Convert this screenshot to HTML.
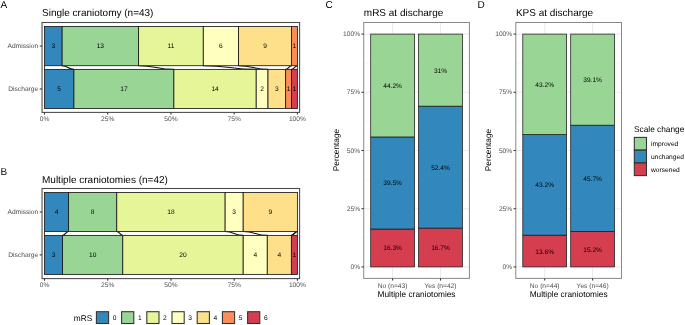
<!DOCTYPE html>
<html><head><meta charset="utf-8"><style>
html,body{margin:0;padding:0;background:#fff;}
svg{display:block;font-family:'Liberation Sans', Arial, sans-serif;text-rendering:geometricPrecision;}
</style></head><body>
<svg width="685" height="325" viewBox="0 0 685 325">
<rect x="0" y="0" width="685" height="325" fill="#fff"/>
<text x="0.50" y="8.40" font-size="10" text-anchor="start" fill="#000" >A</text>
<text x="42.00" y="16.40" font-size="10" text-anchor="start" fill="#000" >Single craniotomy (n=43)</text>
<rect x="42.05" y="22.50" width="257.55" height="89.90" fill="#fff" stroke="#4a4a4a" stroke-width="1.07"/>
<line x1="44.50" y1="65.70" x2="44.50" y2="69.40" stroke="#1a1a1a" stroke-width="0.85"/>
<line x1="297.40" y1="65.70" x2="297.40" y2="69.40" stroke="#1a1a1a" stroke-width="0.85"/>
<path d="M62.14,65.70 C68.03,65.70 68.03,69.40 73.91,69.40" fill="none" stroke="#111" stroke-width="1.1"/>
<path d="M138.60,65.70 C156.25,65.70 156.25,69.40 173.89,69.40" fill="none" stroke="#111" stroke-width="1.1"/>
<path d="M203.30,65.70 C229.76,65.70 229.76,69.40 256.23,69.40" fill="none" stroke="#111" stroke-width="1.1"/>
<path d="M238.59,65.70 C253.29,65.70 253.29,69.40 267.99,69.40" fill="none" stroke="#111" stroke-width="1.1"/>
<path d="M291.52,65.70 C288.58,65.70 288.58,69.40 285.64,69.40" fill="none" stroke="#111" stroke-width="1.1"/>
<path d="M297.40,65.70 C294.46,65.70 294.46,69.40 291.52,69.40" fill="none" stroke="#111" stroke-width="1.1"/>
<rect x="44.50" y="26.50" width="17.64" height="39.20" fill="#3288BD" stroke="#1a1a1a" stroke-width="0.85"/>
<text x="53.32" y="48.40" font-size="6.6" text-anchor="middle" fill="#000" >3</text>
<rect x="62.14" y="26.50" width="76.46" height="39.20" fill="#99D594" stroke="#1a1a1a" stroke-width="0.85"/>
<text x="100.37" y="48.40" font-size="6.6" text-anchor="middle" fill="#000" >13</text>
<rect x="138.60" y="26.50" width="64.70" height="39.20" fill="#E6F598" stroke="#1a1a1a" stroke-width="0.85"/>
<text x="170.95" y="48.40" font-size="6.6" text-anchor="middle" fill="#000" >11</text>
<rect x="203.30" y="26.50" width="35.29" height="39.20" fill="#FFFFBF" stroke="#1a1a1a" stroke-width="0.85"/>
<text x="220.94" y="48.40" font-size="6.6" text-anchor="middle" fill="#000" >6</text>
<rect x="238.59" y="26.50" width="52.93" height="39.20" fill="#FEE08B" stroke="#1a1a1a" stroke-width="0.85"/>
<text x="265.05" y="48.40" font-size="6.6" text-anchor="middle" fill="#000" >9</text>
<rect x="291.52" y="26.50" width="5.88" height="39.20" fill="#FC8D59" stroke="#1a1a1a" stroke-width="0.85"/>
<text x="294.46" y="48.40" font-size="6.6" text-anchor="middle" fill="#000" >1</text>
<rect x="44.50" y="69.40" width="29.41" height="39.10" fill="#3288BD" stroke="#1a1a1a" stroke-width="0.85"/>
<text x="59.20" y="91.25" font-size="6.6" text-anchor="middle" fill="#000" >5</text>
<rect x="73.91" y="69.40" width="99.98" height="39.10" fill="#99D594" stroke="#1a1a1a" stroke-width="0.85"/>
<text x="123.90" y="91.25" font-size="6.6" text-anchor="middle" fill="#000" >17</text>
<rect x="173.89" y="69.40" width="82.34" height="39.10" fill="#E6F598" stroke="#1a1a1a" stroke-width="0.85"/>
<text x="215.06" y="91.25" font-size="6.6" text-anchor="middle" fill="#000" >14</text>
<rect x="256.23" y="69.40" width="11.76" height="39.10" fill="#FFFFBF" stroke="#1a1a1a" stroke-width="0.85"/>
<text x="262.11" y="91.25" font-size="6.6" text-anchor="middle" fill="#000" >2</text>
<rect x="267.99" y="69.40" width="17.64" height="39.10" fill="#FEE08B" stroke="#1a1a1a" stroke-width="0.85"/>
<text x="276.82" y="91.25" font-size="6.6" text-anchor="middle" fill="#000" >3</text>
<rect x="285.64" y="69.40" width="5.88" height="39.10" fill="#FC8D59" stroke="#1a1a1a" stroke-width="0.85"/>
<text x="288.58" y="91.25" font-size="6.6" text-anchor="middle" fill="#000" >1</text>
<rect x="291.52" y="69.40" width="5.88" height="39.10" fill="#D53E4F" stroke="#1a1a1a" stroke-width="0.85"/>
<text x="294.46" y="91.25" font-size="6.6" text-anchor="middle" fill="#000" >1</text>
<text x="38.20" y="48.40" font-size="6.65" text-anchor="end" fill="#4D4D4D" >Admission</text>
<line x1="39.7" y1="46.10" x2="42.05" y2="46.10" stroke="#333" stroke-width="1.07"/>
<text x="38.20" y="91.25" font-size="6.65" text-anchor="end" fill="#4D4D4D" >Discharge</text>
<line x1="39.7" y1="88.95" x2="42.05" y2="88.95" stroke="#333" stroke-width="1.07"/>
<line x1="44.50" y1="112.40" x2="44.50" y2="114.60" stroke="#333" stroke-width="1.07"/>
<text x="44.50" y="121.10" font-size="6.65" text-anchor="middle" fill="#4D4D4D" >0%</text>
<line x1="107.72" y1="112.40" x2="107.72" y2="114.60" stroke="#333" stroke-width="1.07"/>
<text x="107.72" y="121.10" font-size="6.65" text-anchor="middle" fill="#4D4D4D" >25%</text>
<line x1="170.95" y1="112.40" x2="170.95" y2="114.60" stroke="#333" stroke-width="1.07"/>
<text x="170.95" y="121.10" font-size="6.65" text-anchor="middle" fill="#4D4D4D" >50%</text>
<line x1="234.17" y1="112.40" x2="234.17" y2="114.60" stroke="#333" stroke-width="1.07"/>
<text x="234.17" y="121.10" font-size="6.65" text-anchor="middle" fill="#4D4D4D" >75%</text>
<line x1="297.40" y1="112.40" x2="297.40" y2="114.60" stroke="#333" stroke-width="1.07"/>
<text x="297.40" y="121.10" font-size="6.65" text-anchor="middle" fill="#4D4D4D" >100%</text>
<text x="0.50" y="174.50" font-size="10" text-anchor="start" fill="#000" >B</text>
<text x="42.00" y="182.50" font-size="10" text-anchor="start" fill="#000" >Multiple craniotomies (n=42)</text>
<rect x="42.05" y="188.50" width="257.55" height="90.10" fill="#fff" stroke="#4a4a4a" stroke-width="1.07"/>
<line x1="44.50" y1="231.50" x2="44.50" y2="235.40" stroke="#1a1a1a" stroke-width="0.85"/>
<line x1="297.40" y1="231.50" x2="297.40" y2="235.40" stroke="#1a1a1a" stroke-width="0.85"/>
<path d="M68.59,231.50 C65.58,231.50 65.58,235.40 62.56,235.40" fill="none" stroke="#111" stroke-width="1.1"/>
<path d="M116.76,231.50 C119.77,231.50 119.77,235.40 122.78,235.40" fill="none" stroke="#111" stroke-width="1.1"/>
<path d="M225.14,231.50 C234.17,231.50 234.17,235.40 243.21,235.40" fill="none" stroke="#111" stroke-width="1.1"/>
<path d="M243.21,231.50 C255.25,231.50 255.25,235.40 267.29,235.40" fill="none" stroke="#111" stroke-width="1.1"/>
<path d="M297.40,231.50 C294.39,231.50 294.39,235.40 291.38,235.40" fill="none" stroke="#111" stroke-width="1.1"/>
<path d="M297.40,231.50 C294.39,231.50 294.39,235.40 291.38,235.40" fill="none" stroke="#111" stroke-width="1.1"/>
<rect x="44.50" y="192.50" width="24.09" height="39.00" fill="#3288BD" stroke="#1a1a1a" stroke-width="0.85"/>
<text x="56.54" y="214.30" font-size="6.6" text-anchor="middle" fill="#000" >4</text>
<rect x="68.59" y="192.50" width="48.17" height="39.00" fill="#99D594" stroke="#1a1a1a" stroke-width="0.85"/>
<text x="92.67" y="214.30" font-size="6.6" text-anchor="middle" fill="#000" >8</text>
<rect x="116.76" y="192.50" width="108.39" height="39.00" fill="#E6F598" stroke="#1a1a1a" stroke-width="0.85"/>
<text x="170.95" y="214.30" font-size="6.6" text-anchor="middle" fill="#000" >18</text>
<rect x="225.14" y="192.50" width="18.06" height="39.00" fill="#FFFFBF" stroke="#1a1a1a" stroke-width="0.85"/>
<text x="234.17" y="214.30" font-size="6.6" text-anchor="middle" fill="#000" >3</text>
<rect x="243.21" y="192.50" width="54.19" height="39.00" fill="#FEE08B" stroke="#1a1a1a" stroke-width="0.85"/>
<text x="270.30" y="214.30" font-size="6.6" text-anchor="middle" fill="#000" >9</text>
<rect x="44.50" y="235.40" width="18.06" height="39.00" fill="#3288BD" stroke="#1a1a1a" stroke-width="0.85"/>
<text x="53.53" y="257.20" font-size="6.6" text-anchor="middle" fill="#000" >3</text>
<rect x="62.56" y="235.40" width="60.21" height="39.00" fill="#99D594" stroke="#1a1a1a" stroke-width="0.85"/>
<text x="92.67" y="257.20" font-size="6.6" text-anchor="middle" fill="#000" >10</text>
<rect x="122.78" y="235.40" width="120.43" height="39.00" fill="#E6F598" stroke="#1a1a1a" stroke-width="0.85"/>
<text x="182.99" y="257.20" font-size="6.6" text-anchor="middle" fill="#000" >20</text>
<rect x="243.21" y="235.40" width="24.09" height="39.00" fill="#FFFFBF" stroke="#1a1a1a" stroke-width="0.85"/>
<text x="255.25" y="257.20" font-size="6.6" text-anchor="middle" fill="#000" >4</text>
<rect x="267.29" y="235.40" width="24.09" height="39.00" fill="#FEE08B" stroke="#1a1a1a" stroke-width="0.85"/>
<text x="279.34" y="257.20" font-size="6.6" text-anchor="middle" fill="#000" >4</text>
<rect x="291.38" y="235.40" width="6.02" height="39.00" fill="#D53E4F" stroke="#1a1a1a" stroke-width="0.85"/>
<text x="294.39" y="257.20" font-size="6.6" text-anchor="middle" fill="#000" >1</text>
<text x="38.20" y="214.30" font-size="6.65" text-anchor="end" fill="#4D4D4D" >Admission</text>
<line x1="39.7" y1="212.00" x2="42.05" y2="212.00" stroke="#333" stroke-width="1.07"/>
<text x="38.20" y="257.20" font-size="6.65" text-anchor="end" fill="#4D4D4D" >Discharge</text>
<line x1="39.7" y1="254.90" x2="42.05" y2="254.90" stroke="#333" stroke-width="1.07"/>
<line x1="44.50" y1="278.60" x2="44.50" y2="280.80" stroke="#333" stroke-width="1.07"/>
<text x="44.50" y="287.30" font-size="6.65" text-anchor="middle" fill="#4D4D4D" >0%</text>
<line x1="107.72" y1="278.60" x2="107.72" y2="280.80" stroke="#333" stroke-width="1.07"/>
<text x="107.72" y="287.30" font-size="6.65" text-anchor="middle" fill="#4D4D4D" >25%</text>
<line x1="170.95" y1="278.60" x2="170.95" y2="280.80" stroke="#333" stroke-width="1.07"/>
<text x="170.95" y="287.30" font-size="6.65" text-anchor="middle" fill="#4D4D4D" >50%</text>
<line x1="234.17" y1="278.60" x2="234.17" y2="280.80" stroke="#333" stroke-width="1.07"/>
<text x="234.17" y="287.30" font-size="6.65" text-anchor="middle" fill="#4D4D4D" >75%</text>
<line x1="297.40" y1="278.60" x2="297.40" y2="280.80" stroke="#333" stroke-width="1.07"/>
<text x="297.40" y="287.30" font-size="6.65" text-anchor="middle" fill="#4D4D4D" >100%</text>
<text x="73.80" y="320.60" font-size="8.3" text-anchor="start" fill="#000" >mRS</text>
<rect x="96.40" y="311.7" width="12.2" height="11.8" fill="#3288BD" stroke="#333" stroke-width="1.07"/>
<text x="112.70" y="320.00" font-size="6.65" text-anchor="start" fill="#000" >0</text>
<rect x="121.60" y="311.7" width="12.2" height="11.8" fill="#99D594" stroke="#333" stroke-width="1.07"/>
<text x="137.90" y="320.00" font-size="6.65" text-anchor="start" fill="#000" >1</text>
<rect x="146.80" y="311.7" width="12.2" height="11.8" fill="#E6F598" stroke="#333" stroke-width="1.07"/>
<text x="163.10" y="320.00" font-size="6.65" text-anchor="start" fill="#000" >2</text>
<rect x="172.00" y="311.7" width="12.2" height="11.8" fill="#FFFFBF" stroke="#333" stroke-width="1.07"/>
<text x="188.30" y="320.00" font-size="6.65" text-anchor="start" fill="#000" >3</text>
<rect x="197.20" y="311.7" width="12.2" height="11.8" fill="#FEE08B" stroke="#333" stroke-width="1.07"/>
<text x="213.50" y="320.00" font-size="6.65" text-anchor="start" fill="#000" >4</text>
<rect x="222.40" y="311.7" width="12.2" height="11.8" fill="#FC8D59" stroke="#333" stroke-width="1.07"/>
<text x="238.70" y="320.00" font-size="6.65" text-anchor="start" fill="#000" >5</text>
<rect x="247.60" y="311.7" width="12.2" height="11.8" fill="#D53E4F" stroke="#333" stroke-width="1.07"/>
<text x="263.90" y="320.00" font-size="6.65" text-anchor="start" fill="#000" >6</text>
<text x="325.50" y="8.30" font-size="10" text-anchor="start" fill="#000" >C</text>
<text x="363.80" y="16.30" font-size="10" text-anchor="start" fill="#000" >mRS at discharge</text>
<rect x="363.70" y="22.5" width="105.70" height="255.89999999999998" fill="#fff"/>
<line x1="363.70" y1="237.80" x2="469.40" y2="237.80" stroke="#F2F2F2" stroke-width="0.55"/>
<line x1="363.70" y1="179.60" x2="469.40" y2="179.60" stroke="#F2F2F2" stroke-width="0.55"/>
<line x1="363.70" y1="121.40" x2="469.40" y2="121.40" stroke="#F2F2F2" stroke-width="0.55"/>
<line x1="363.70" y1="63.20" x2="469.40" y2="63.20" stroke="#F2F2F2" stroke-width="0.55"/>
<line x1="363.70" y1="266.90" x2="469.40" y2="266.90" stroke="#EBEBEB" stroke-width="1.07"/>
<line x1="363.70" y1="208.70" x2="469.40" y2="208.70" stroke="#EBEBEB" stroke-width="1.07"/>
<line x1="363.70" y1="150.50" x2="469.40" y2="150.50" stroke="#EBEBEB" stroke-width="1.07"/>
<line x1="363.70" y1="92.30" x2="469.40" y2="92.30" stroke="#EBEBEB" stroke-width="1.07"/>
<line x1="363.70" y1="34.10" x2="469.40" y2="34.10" stroke="#EBEBEB" stroke-width="1.07"/>
<line x1="392.60" y1="22.5" x2="392.60" y2="278.4" stroke="#EBEBEB" stroke-width="1.07"/>
<line x1="440.50" y1="22.5" x2="440.50" y2="278.4" stroke="#EBEBEB" stroke-width="1.07"/>
<rect x="370.70" y="229.00" width="43.8" height="37.90" fill="#D53E4F" stroke="#1a1a1a" stroke-width="0.75"/>
<text x="392.60" y="250.45" font-size="6.6" text-anchor="middle" fill="#000" >16.3%</text>
<rect x="370.70" y="136.97" width="43.8" height="92.04" fill="#3288BD" stroke="#1a1a1a" stroke-width="0.75"/>
<text x="392.60" y="185.48" font-size="6.6" text-anchor="middle" fill="#000" >39.5%</text>
<rect x="370.70" y="34.10" width="43.8" height="102.87" fill="#99D594" stroke="#1a1a1a" stroke-width="0.75"/>
<text x="392.60" y="88.03" font-size="6.6" text-anchor="middle" fill="#000" >44.2%</text>
<rect x="418.60" y="228.10" width="43.8" height="38.80" fill="#D53E4F" stroke="#1a1a1a" stroke-width="0.75"/>
<text x="440.50" y="250.00" font-size="6.6" text-anchor="middle" fill="#000" >16.7%</text>
<rect x="418.60" y="106.16" width="43.8" height="121.94" fill="#3288BD" stroke="#1a1a1a" stroke-width="0.75"/>
<text x="440.50" y="169.63" font-size="6.6" text-anchor="middle" fill="#000" >52.4%</text>
<rect x="418.60" y="34.10" width="43.8" height="72.06" fill="#99D594" stroke="#1a1a1a" stroke-width="0.75"/>
<text x="440.50" y="72.63" font-size="6.6" text-anchor="middle" fill="#000" >31%</text>
<rect x="363.70" y="22.5" width="105.70" height="255.89999999999998" fill="none" stroke="#888" stroke-width="1"/>
<line x1="361.50" y1="266.90" x2="363.70" y2="266.90" stroke="#333" stroke-width="1.07"/>
<text x="360.10" y="268.90" font-size="6.65" text-anchor="end" fill="#4D4D4D" >0%</text>
<line x1="361.50" y1="208.70" x2="363.70" y2="208.70" stroke="#333" stroke-width="1.07"/>
<text x="360.10" y="210.70" font-size="6.65" text-anchor="end" fill="#4D4D4D" >25%</text>
<line x1="361.50" y1="150.50" x2="363.70" y2="150.50" stroke="#333" stroke-width="1.07"/>
<text x="360.10" y="152.50" font-size="6.65" text-anchor="end" fill="#4D4D4D" >50%</text>
<line x1="361.50" y1="92.30" x2="363.70" y2="92.30" stroke="#333" stroke-width="1.07"/>
<text x="360.10" y="94.30" font-size="6.65" text-anchor="end" fill="#4D4D4D" >75%</text>
<line x1="361.50" y1="34.10" x2="363.70" y2="34.10" stroke="#333" stroke-width="1.07"/>
<text x="360.10" y="36.10" font-size="6.65" text-anchor="end" fill="#4D4D4D" >100%</text>
<line x1="392.60" y1="278.4" x2="392.60" y2="280.59999999999997" stroke="#333" stroke-width="1.07"/>
<text x="392.60" y="287.50" font-size="6.65" text-anchor="middle" fill="#4D4D4D" >No (n=43)</text>
<line x1="440.50" y1="278.4" x2="440.50" y2="280.59999999999997" stroke="#333" stroke-width="1.07"/>
<text x="440.50" y="287.50" font-size="6.65" text-anchor="middle" fill="#4D4D4D" >Yes (n=42)</text>
<text x="416.55" y="296.80" font-size="8.3" text-anchor="middle" fill="#000" >Multiple craniotomies</text>
<text x="0" y="0" font-size="8.3" text-anchor="middle" transform="translate(339.30,150.05) rotate(-90)">Percentage</text>
<text x="477.60" y="8.30" font-size="10" text-anchor="start" fill="#000" >D</text>
<text x="515.90" y="16.30" font-size="10" text-anchor="start" fill="#000" >KPS at discharge</text>
<rect x="515.80" y="22.5" width="105.70" height="255.89999999999998" fill="#fff"/>
<line x1="515.80" y1="237.80" x2="621.50" y2="237.80" stroke="#F2F2F2" stroke-width="0.55"/>
<line x1="515.80" y1="179.60" x2="621.50" y2="179.60" stroke="#F2F2F2" stroke-width="0.55"/>
<line x1="515.80" y1="121.40" x2="621.50" y2="121.40" stroke="#F2F2F2" stroke-width="0.55"/>
<line x1="515.80" y1="63.20" x2="621.50" y2="63.20" stroke="#F2F2F2" stroke-width="0.55"/>
<line x1="515.80" y1="266.90" x2="621.50" y2="266.90" stroke="#EBEBEB" stroke-width="1.07"/>
<line x1="515.80" y1="208.70" x2="621.50" y2="208.70" stroke="#EBEBEB" stroke-width="1.07"/>
<line x1="515.80" y1="150.50" x2="621.50" y2="150.50" stroke="#EBEBEB" stroke-width="1.07"/>
<line x1="515.80" y1="92.30" x2="621.50" y2="92.30" stroke="#EBEBEB" stroke-width="1.07"/>
<line x1="515.80" y1="34.10" x2="621.50" y2="34.10" stroke="#EBEBEB" stroke-width="1.07"/>
<line x1="544.70" y1="22.5" x2="544.70" y2="278.4" stroke="#EBEBEB" stroke-width="1.07"/>
<line x1="592.60" y1="22.5" x2="592.60" y2="278.4" stroke="#EBEBEB" stroke-width="1.07"/>
<rect x="522.80" y="235.15" width="43.8" height="31.75" fill="#D53E4F" stroke="#1a1a1a" stroke-width="0.75"/>
<text x="544.70" y="253.53" font-size="6.6" text-anchor="middle" fill="#000" >13.6%</text>
<rect x="522.80" y="134.63" width="43.8" height="100.53" fill="#3288BD" stroke="#1a1a1a" stroke-width="0.75"/>
<text x="544.70" y="187.39" font-size="6.6" text-anchor="middle" fill="#000" >43.2%</text>
<rect x="522.80" y="34.10" width="43.8" height="100.53" fill="#99D594" stroke="#1a1a1a" stroke-width="0.75"/>
<text x="544.70" y="86.86" font-size="6.6" text-anchor="middle" fill="#000" >43.2%</text>
<rect x="570.70" y="231.47" width="43.8" height="35.43" fill="#D53E4F" stroke="#1a1a1a" stroke-width="0.75"/>
<text x="592.60" y="251.69" font-size="6.6" text-anchor="middle" fill="#000" >15.2%</text>
<rect x="570.70" y="125.20" width="43.8" height="106.28" fill="#3288BD" stroke="#1a1a1a" stroke-width="0.75"/>
<text x="592.60" y="180.83" font-size="6.6" text-anchor="middle" fill="#000" >45.7%</text>
<rect x="570.70" y="34.10" width="43.8" height="91.10" fill="#99D594" stroke="#1a1a1a" stroke-width="0.75"/>
<text x="592.60" y="82.15" font-size="6.6" text-anchor="middle" fill="#000" >39.1%</text>
<rect x="515.80" y="22.5" width="105.70" height="255.89999999999998" fill="none" stroke="#888" stroke-width="1"/>
<line x1="513.60" y1="266.90" x2="515.80" y2="266.90" stroke="#333" stroke-width="1.07"/>
<text x="512.20" y="268.90" font-size="6.65" text-anchor="end" fill="#4D4D4D" >0%</text>
<line x1="513.60" y1="208.70" x2="515.80" y2="208.70" stroke="#333" stroke-width="1.07"/>
<text x="512.20" y="210.70" font-size="6.65" text-anchor="end" fill="#4D4D4D" >25%</text>
<line x1="513.60" y1="150.50" x2="515.80" y2="150.50" stroke="#333" stroke-width="1.07"/>
<text x="512.20" y="152.50" font-size="6.65" text-anchor="end" fill="#4D4D4D" >50%</text>
<line x1="513.60" y1="92.30" x2="515.80" y2="92.30" stroke="#333" stroke-width="1.07"/>
<text x="512.20" y="94.30" font-size="6.65" text-anchor="end" fill="#4D4D4D" >75%</text>
<line x1="513.60" y1="34.10" x2="515.80" y2="34.10" stroke="#333" stroke-width="1.07"/>
<text x="512.20" y="36.10" font-size="6.65" text-anchor="end" fill="#4D4D4D" >100%</text>
<line x1="544.70" y1="278.4" x2="544.70" y2="280.59999999999997" stroke="#333" stroke-width="1.07"/>
<text x="544.70" y="287.50" font-size="6.65" text-anchor="middle" fill="#4D4D4D" >No (n=44)</text>
<line x1="592.60" y1="278.4" x2="592.60" y2="280.59999999999997" stroke="#333" stroke-width="1.07"/>
<text x="592.60" y="287.50" font-size="6.65" text-anchor="middle" fill="#4D4D4D" >Yes (n=46)</text>
<text x="568.65" y="296.80" font-size="8.3" text-anchor="middle" fill="#000" >Multiple craniotomies</text>
<text x="0" y="0" font-size="8.3" text-anchor="middle" transform="translate(491.40,150.05) rotate(-90)">Percentage</text>
<text x="634.00" y="132.00" font-size="8.3" text-anchor="start" fill="#000" >Scale change</text>
<rect x="634.3" y="137.40" width="12.2" height="12.6" fill="#99D594" stroke="#333" stroke-width="1.07"/>
<text x="651.00" y="146.10" font-size="6.65" text-anchor="start" fill="#000" >improved</text>
<rect x="634.3" y="150.20" width="12.2" height="12.6" fill="#3288BD" stroke="#333" stroke-width="1.07"/>
<text x="651.00" y="158.90" font-size="6.65" text-anchor="start" fill="#000" >unchanged</text>
<rect x="634.3" y="163.00" width="12.2" height="12.6" fill="#D53E4F" stroke="#333" stroke-width="1.07"/>
<text x="651.00" y="171.70" font-size="6.65" text-anchor="start" fill="#000" >worsened</text>
</svg>
</body></html>
